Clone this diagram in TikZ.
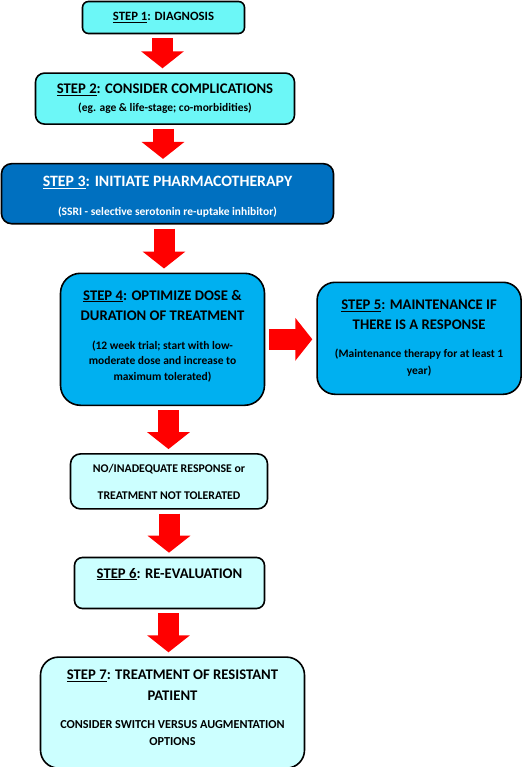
\documentclass[tikz,border=0pt]{standalone}
\usepackage{fontspec}
\setmainfont{Carlito}
\usetikzlibrary{positioning,arrows.meta}
\definecolor{aqua}{HTML}{6CF7F7}
\definecolor{navy}{HTML}{0070C0}
\definecolor{sky}{HTML}{00B0F0}
\definecolor{pale}{HTML}{CCFFFF}
\newcommand{\stp}[1]{\underline{STEP #1}}
\newcommand{\ttl}{\fontsize{14.7}{20}\selectfont}
\newcommand{\sml}{\fontsize{11.5}{15.5}\selectfont}

\begin{document}
\begin{tikzpicture}[x=1pt,y=1pt,
  box/.style={draw=black, line width=1.6pt, align=center, inner sep=1pt, font=\bfseries\ttl},
  flow/.style={-{Triangle[width=42pt,length=17pt]}, line width=21pt, draw=red, shorten <=4pt, shorten >=4pt}]
\useasboundingbox (0,0) rectangle (522,-767);
  % Define steps
  \node[box, fill=aqua, rounded corners=6pt, minimum width=162pt, minimum height=32pt,
    font=\bfseries\fontsize{12.7}{16}\selectfont] (s1) at (163.5,-17.5) {\stp{1}: DIAGNOSIS};
  \node[box, fill=aqua, rounded corners=9pt, minimum width=259pt, minimum height=51pt, below=38pt of s1, xshift=1.5pt] (s2)
    {\stp{2}: CONSIDER COMPLICATIONS\\[-2pt]\sml (eg. age \& life-stage; co-morbidities)};
  \node[box, fill=navy, text=white, rounded corners=10pt, minimum width=332pt, minimum height=60pt, below=38pt of s2, xshift=2.5pt] (s3)
    {\mbox{}\\[-3pt]\fontsize{15.8}{20}\selectfont\stp{3}: INITIATE PHARMACOTHERAPY\\[9pt]\sml (SSRI - selective serotonin re-uptake inhibitor)};
  \node[box, fill=sky, rounded corners=20pt, minimum width=204pt, minimum height=132pt, below=48pt of s3, xshift=-5pt] (s4)
    {\stp{4}: OPTIMIZE DOSE \&\\DURATION OF TREATMENT\\[9pt]\sml (12 week trial; start with low-\\[-4.5pt]\sml moderate dose and increase to\\[-4pt]\sml maximum tolerated)\\[-12pt]\mbox{}};
  \node[box, fill=sky, rounded corners=18pt, minimum width=204pt, minimum height=112pt, right=51pt of s4, yshift=1pt] (s5)
    {\stp{5}: MAINTENANCE IF\\THERE IS A RESPONSE\\[8pt]\sml (Maintenance therapy for at least 1\\[-3pt]\sml year)};
  \node[box, fill=pale, rounded corners=10pt, minimum width=197pt, minimum height=55pt, below=47pt of s4, xshift=6.5pt,
    font=\bfseries\fontsize{11.8}{27}\selectfont] (nr)
    {NO/INADEQUATE RESPONSE or\\TREATMENT NOT TOLERATED};
  \node[box, fill=pale, rounded corners=8pt, minimum width=190pt, minimum height=51pt, below=47pt of nr, xshift=0.5pt] (s6)
    {\stp{6}: RE-EVALUATION\\ \mbox{}};
  \node[box, fill=pale, rounded corners=18pt, minimum width=264pt, minimum height=111pt, below=47pt of s6, xshift=3pt] (s7)
    {\stp{7}: TREATMENT OF RESISTANT\\[1pt]PATIENT\\[8pt]\fontsize{12.2}{16}\selectfont CONSIDER SWITCH VERSUS AUGMENTATION\\[-3pt]\fontsize{12.2}{16}\selectfont OPTIONS\\[-11pt]\mbox{}};
  % Define arrows
  \draw[flow] ([xshift=-1pt]s1.south) -- ([xshift=-1pt]s1.south |- s2.north);
  \draw[flow] ([xshift=-2pt]s2.south) -- ([xshift=-2pt]s2.south |- s3.north);
  \draw[flow] ([xshift=-3.5pt]s3.south) -- ([xshift=-3.5pt]s3.south |- s4.north);
  \draw[flow] ([xshift=6pt]s4.south) -- ([xshift=6pt]s4.south |- nr.north);
  \draw[flow] (nr.south) -- (nr.south |- s6.north);
  \draw[flow] ([xshift=-1pt]s6.south) -- ([xshift=-1pt]s6.south |- s7.north);
  \draw[flow] (s4.east) -- (s4.east -| s5.west);
\end{tikzpicture}
\end{document}
